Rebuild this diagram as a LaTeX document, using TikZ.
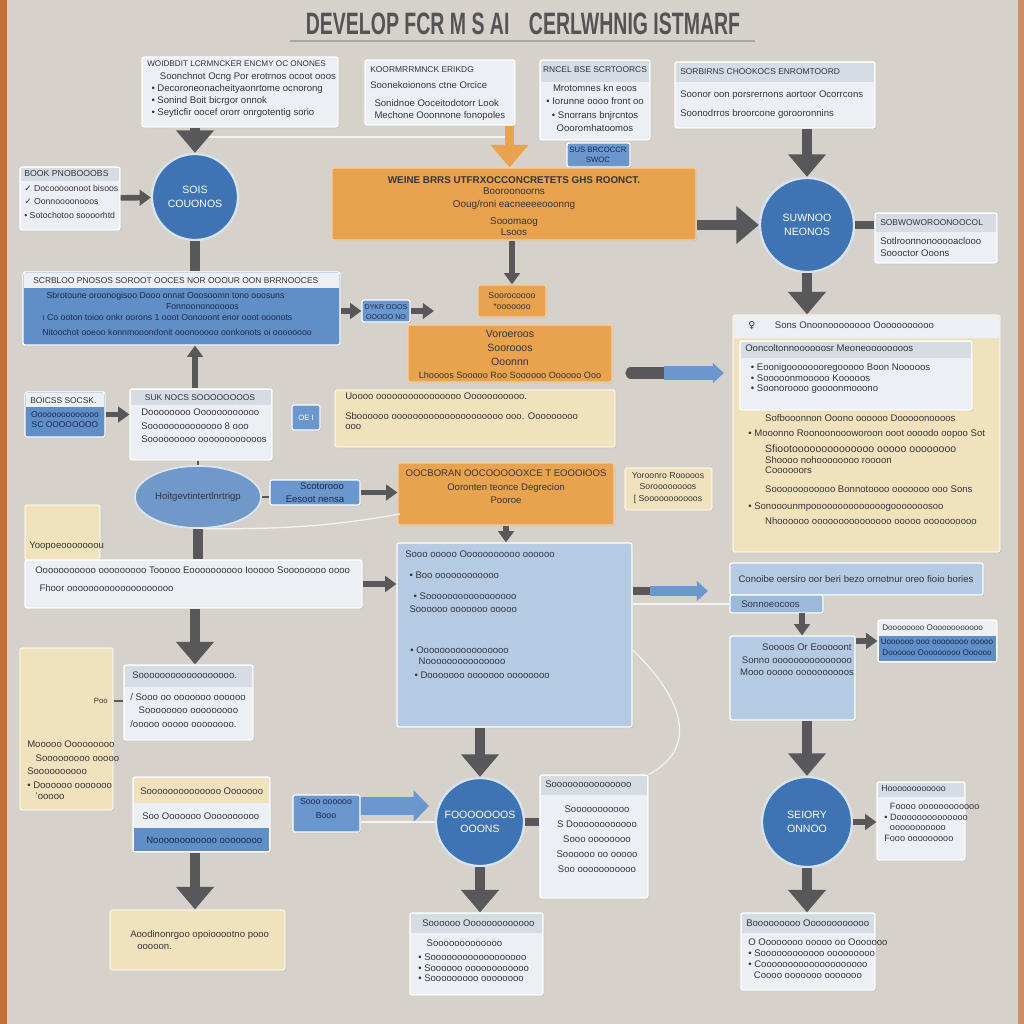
\documentclass[tikz,border=0pt]{standalone}
\usepackage{fontspec}
\setmainfont{Liberation Sans}
\newfontfamily\symfont{DejaVu Sans}
\usetikzlibrary{arrows.meta, positioning, fit, shapes.geometric, shadows}

\definecolor{canvas}{RGB}{214,209,203}
\definecolor{rust}{RGB}{196,112,62}
\definecolor{paper}{RGB}{236,240,244}
\definecolor{headgrey}{RGB}{214,220,227}
\definecolor{deepblue}{RGB}{62,116,180}
\definecolor{midblue}{RGB}{96,142,198}
\definecolor{tagblue}{RGB}{106,151,205}
\definecolor{ellblue}{RGB}{112,153,201}
\definecolor{paleblue}{RGB}{181,202,227}
\definecolor{amber}{RGB}{233,162,78}
\definecolor{sand}{RGB}{241,226,190}
\definecolor{iron}{RGB}{88,88,90}
\definecolor{ink}{RGB}{52,52,58}
\definecolor{navy}{RGB}{28,42,78}
\definecolor{titlegrey}{RGB}{84,84,86}

\begin{document}
\begin{tikzpicture}[x=0.025cm, y=-0.025cm,
    txt/.style={font=\fontsize{6.8}{8.6}\selectfont, text=ink, inner sep=0pt, anchor=north west, align=left},
    ctxt/.style={txt, anchor=north, align=center},
    card/.style={draw=white, line width=0.8pt, fill=paper, rounded corners=1.5pt, inner sep=0pt,
      drop shadow={opacity=0.22, shadow xshift=0.8pt, shadow yshift=-0.8pt}},
    band/.style={fill=headgrey, inner sep=0pt},
    ambercard/.style={card, fill=amber, draw=amber!50!white},
    bluecard/.style={card, fill=midblue},
    tagcard/.style={card, fill=tagblue},
    palecard/.style={card, fill=paleblue},
    sandcard/.style={card, fill=sand, draw=sand!40!white},
    disc/.style={circle, fill=deepblue, draw=white!80!deepblue, line width=1.6pt, text=white,
      font=\fontsize{7.5}{10}\selectfont, align=center, inner sep=0pt},
    fat/.style={draw=iron, line width=7pt, -{Triangle[width=26pt,length=16pt]}},
    slim/.style={draw=iron, line width=4pt, -{Triangle[width=11pt,length=8pt]}},
    bar/.style={draw=iron, line width=7pt},
    wire/.style={draw=white!75!canvas, line width=0.9pt},
    bluefeed/.style={draw=tagblue, line width=9pt, -{Triangle[width=14pt,length=8pt]}},
  ]
  % Canvas and title
  \fill[canvas] (0,0) rectangle (1024,1024);
  \fill[rust] (0,0) rectangle (7,1024);
  \fill[rust!70!canvas] (1018,0) rectangle (1024,1024);
  \node[font=\fontsize{22}{24}\selectfont\bfseries, text=titlegrey] (title) at (523,24)
    {\scalebox{0.63}[1]{DEVELOP FCR M S AI\quad CERLWHNIG ISTMARF}};
  \draw[titlegrey!35!canvas, line width=0.8pt] (290,41) -- (755,41);

  % Top row of cards
  \node[card, fit={(142,57) (338,127)}] (wkb) {};
  \node[txt] (wkbt) at (147,61) {{\fontsize{5.8}{8.6}\selectfont WOIDBDIT LCRMNCKER ENCMY OC ONONES}\\
    \hspace{9pt}Soonchnot Ocng Por erotrnos ocoot ooos\\
    \hspace{3pt}• Decoroneonacheityaonrtome ocnorong\\
    \hspace{3pt}• Sonind Boit bicrgor onnok\\
    \hspace{3pt}• Seyticfir oocef ororr onrgotentig sorio};

  \node[card, fit={(365,60) (515,125)}] (kor) {};
  \node[txt] (kort) at (370,66) {{\fontsize{6}{8.6}\selectfont KOORMRRMNCK ERIKDG}\\[3pt]
    Soonekoionons ctne Orcice\\[4pt]
    \hspace{3pt}Sonidnoe Ooceitodotorr Look\\
    \hspace{3pt}Mechone Ooonnone fonopoles};

  \node[card, fit={(540,60) (650,140)}] (rnc) {};
  \node[band, fit={(541,61) (649,82)}] (rncb) {};
  \node[ctxt] (rnct) at (595,66) {{\fontsize{6}{8.6}\selectfont RNCEL BSE SCRTOORCS}\\[5pt]
    Mrotomnes kn eoos\\[1pt] • Iorunne oooo front oo\\[1pt] • Snorrans bnjrcntos\\[1pt] Oooromhatoomos};

  \node[tagcard, fit={(567,143) (630,167)}] (sus) {};
  \node[ctxt, font=\fontsize{5.5}{7}\selectfont, text=navy] (sust) at (598,147) {SUS BRCOCCR\\ SWOC};

  \node[card, fit={(675,62) (875,128)}] (sorb) {};
  \node[band, fit={(676,63) (874,82)}] (sorbb) {};
  \node[txt] (sorbt) at (680,68) {{\fontsize{6}{8.6}\selectfont SORBIRNS CHOOKOCS ENROMTOORD}\\[8pt]
    Soonor oon porsrernons aortoor Ocorrcons\\[5pt]
    Soonodrros broorcone gorooronnins};

  % Left column, first row
  \node[card, fit={(20,167) (120,230)}] (bkp) {};
  \node[band, fit={(21,168) (119,181)}] (bkpb) {};
  \node[txt, font=\fontsize{6.2}{8.6}\selectfont] (bkpt) at (24,170) {BOOK PNOBOOOBS\\[2pt]
    {\symfont ✓} Docooooonoot bisoos\\[1pt] {\symfont ✓} Oonnoooonooos\\[1pt] • Sotochotoo soooorhtd};

  \node[disc, minimum size=2.15cm] (soi) at (195,197) {SOIS\\COUONOS};

  \node[ambercard, fit={(332,168) (696,240)}] (wei) {};
  \node[ctxt, font=\fontsize{7}{8.4}\selectfont] (weit) at (514,176)
    {\textbf{WEINE BRRS UTFRXOCCONCRETETS GHS ROONCT.}\\[0pt] Booroonoorns\\[0.5pt]
     Ooug/roni eacneeeeooonng\\[4pt] Sooomaog\\[-1pt] Lsoos};

  \node[disc, minimum size=2.35cm] (suw) at (807,225) {SUWNOO\\NEONOS};

  \node[card, fit={(875,213) (997,263)}] (sbw) {};
  \node[band, fit={(876,214) (996,232)}] (sbwb) {};
  \node[txt] (sbwt) at (880,219) {{\fontsize{6}{8.6}\selectfont SOBWOWOROONOOCOL}\\[5pt]
    Sotlroonnonooooaclooo\\ Soooctor Ooons};

  % Blue strip and its tags
  \node[bluecard, fit={(23,272) (340,345)}] (scr) {};
  \node[band, fill=paper, fit={(24,273) (339,288)}] (scrb) {};
  \node[txt, font=\fontsize{6}{8}\selectfont] (scrh) at (33,277)
    {SCRBLOO PNOSOS SOROOT OOCES NOR OOOUR OON BRRNOOCES};
  \node[txt, text=navy, font=\fontsize{6.2}{7.4}\selectfont] (scrt) at (42,292)
    {\hspace{3pt}Sbrotoune oroonogisoo Dooo onnat Ooosoomn tono ooosuns\\[0.5pt]
     \hspace{88pt}Fonnoononooooos\\[0.5pt]
     ı Co ooton toioo onkr oorons 1 ooot Oonooont enor ooot ooonots\\[3pt]
     Nitoochot ooeoo konnmooondonit ooonooooo oonkonots oi oooooooo};

  \node[tagcard, fit={(362,300) (410,322)}] (dyk) {};
  \node[ctxt, font=\fontsize{5}{7}\selectfont, text=navy] (dykt) at (386,304) {DYKR OOOS\\ OOOOO NO};
  \coordinate (dyktip) at (434,311);

  \node[ambercard, fit={(478,285) (546,317)}] (soc) {};
  \node[ctxt, font=\fontsize{6.2}{8}\selectfont] (soct) at (512,292) {Soorocoooo\\ *ooooooo};

  \node[ambercard, fit={(408,325) (612,382)}] (vor) {};
  \node[ctxt, font=\fontsize{7.5}{9.8}\selectfont] (vort) at (510,330)
    {Voroeroos\\ Soorooos\\ Ooonnn\\ {\fontsize{6.5}{8}\selectfont Lhoooos Sooooo Roo Soooooo Oooooo Ooo}};

  \coordinate (vorstub) at (631,373);
  \coordinate (vorjoin) at (664,373);

  % Right panel
  \node[sandcard, fit={(733,315) (1000,552)}] (snp) {};
  \node[band, fill=paper, fit={(734,316) (999,338)}] (snpb) {};
  \node[txt] (snph) at (748,321) {{\symfont ♀}\hspace{14pt}Sons Onoonoooooooo Ooooooooooo};
  \node[card, fit={(740,341) (972,410)}] (cnc) {};
  \node[band, fit={(741,342) (971,358)}] (cncb) {};
  \node[txt] (cnct) at (745,344) {Ooncoltonnoooooosr Meoneoooooooos\\[5pt]
    \hspace{4pt}• Eoonigoooooooregooooo Boon Nooooos\\[-1pt]
    \hspace{4pt}• Sooooonmooooo Kooooos\\[-1pt]
    \hspace{4pt}• Soonoroooo goooonmooono};
  \node[txt] (snpt) at (748,414) {\hspace{12pt}Sofbooonnon Ooono oooooo Dooooonoooos\\[2pt]
    • Mooonno Roonoonoooworoon ooot oooodo oopoo Sot\\[3pt]
    \hspace{12pt}{\fontsize{7.5}{9}\selectfont Sfiootoooooooooooooo ooooo oooooooo}\\[-1pt]
    \hspace{12pt}Shoooo nohoooooooo roooon\\[-1pt]
    \hspace{12pt}Coooooors\\[5pt]
    \hspace{12pt}Soooooooooooo Bonnotoooo ooooooo ooo Sons\\[3pt]
    • Sonooounmpoooooooooooooogooooooosoo\\[2pt]
    \hspace{12pt}Nhoooooo ooooooooooooooo ooooo oooooooooo};

  % Second band of the left column
  \node[bluecard, fit={(25,392) (105,437)}] (bcs) {};
  \node[band, fill=paper, fit={(26,393) (104,407)}] (bcsb) {};
  \node[txt, font=\fontsize{6}{7.5}\selectfont] (bcsh) at (30,397) {BOICSS SOCSK.};
  \node[ctxt, font=\fontsize{6}{7.5}\selectfont, text=navy] (bcst) at (65,411) {Oooooooooooooo\\ SC OOOOOOOO};

  \node[card, fit={(130,389) (272,460)}] (suk) {};
  \node[band, fit={(131,390) (271,405)}] (sukb) {};
  \node[ctxt, font=\fontsize{6}{8.6}\selectfont] (sukh) at (200,394) {SUK NOCS SOOOOOOOOS};
  \node[txt] (sukt) at (141,409) {Doooooooo Oooooooooooo\\[1pt] Soooooooooooooo 8 ooo\\[1pt] Sooooooooo oooooooooooos};

  \node[tagcard, fit={(292,405) (320,430)}] (oei) {};
  \node[txt, anchor=center, text=white, font=\fontsize{5.5}{6}\selectfont] (oeit) at (oei) {OE I};

  \node[sandcard, fit={(335,390) (615,447)}] (uoo) {};
  \node[txt] (uoot) at (345,393) {Uoooo oooooooooooooooo Ooooooooooo.\\[5pt]
    Sboooooo ooooooooooooooooooooo ooo. Ooooooooo\\[-1pt] ooo};

  \node[ellipse, fill=ellblue, draw=white!75!ellblue, line width=1.2pt, minimum width=3.15cm,
    minimum height=1.55cm, inner sep=0pt, font=\fontsize{6.8}{8}\selectfont, text=ink] (hog) at (198,497)
    {Hoitgevtintertlnrtrigp};

  \node[tagcard, fit={(270,480) (360,505)}] (sct) {};
  \node[ctxt, text=navy] (sctt) at (315,483) {\hspace{10pt}Scotorooo\\ Eesoot nensa};

  \node[ambercard, fit={(398,463) (614,525)}] (dor) {};
  \node[ctxt] (dort) at (506,470) {OOCBORAN OOCOOOOOXCE T EOOOIOOS\\[1pt] Ooronten teonce Degrecion\\[1pt] Pooroe};

  \node[sandcard, fit={(625,468) (712,510)}] (yor) {};
  \node[ctxt, font=\fontsize{6.2}{8.2}\selectfont] (yort) at (668,472) {Yoroonro Rooooos\\ Soroooooooos\\ {[} Sooooooooooos};

  \coordinate (dorwire) at (400,514);

  % Lower left
  \node[sandcard, fit={(25,505) (100,560)}] (yep) {};
  \node[txt, anchor=west] (yept) at (29,546) {Yoopoeooooooou};

  \node[card, fit={(25,560) (362,608)}] (ooc) {};
  \node[txt] (ooct) at (35,567) {Ooooooooooo ooooooooo Tooooo Eoooooooooo Iooooo Soooooooo oooo\\[4pt]
    \hspace{3pt}Fhoor oooooooooooooooooooo};

  \node[palecard, fit={(397,543) (632,727)}] (blu) {};
  \node[txt] (blut) at (405,551) {Sooo ooooo Ooooooooooo oooooo\\[6pt]
    \hspace{3pt}• Boo oooooooooooo\\[6pt]
    \hspace{6pt}• Sooooooooooooooooo\\[1pt]
    \hspace{3pt}Soooooo ooooooo ooooo};
  \node[txt] (blub) at (410,647) {• Ooooooooooooooooo\\[-1pt]
    \hspace{6pt}Nooooooooooooooo\\[1pt]
    \hspace{3pt}• Dooooooo ooooooo oooooooo};

  \coordinate (blujoin) at (650,591);
  \coordinate (blutip) at (708,591);

  \node[palecard, fit={(730,563) (983,595)}] (cob) {};
  \node[ctxt] (cobt) at (856,575) {Conoibe oersiro oor beri bezo ornotnur oreo fioio bories};
  \node[palecard, fill=paleblue!80!deepblue, fit={(730,595) (823,613)}] (bsq) {};
  \node[txt, anchor=west] (bsqt) at (741,604) {Sonnoeocoos};
  \coordinate (bsqfoot) at (802,613);

  \node[palecard, fit={(730,636) (855,720)}] (smo) {};
  \node[ctxt] (smot) at (797,644) {\hspace{14pt}Soooos Or Eooooont\\ Sonno ooooooooooooooo\\ Mooo ooooo oooooooooos};

  \node[card, fit={(878,620) (997,662)}] (dpr) {};
  \node[band, fill=midblue, fit={(879,636) (996,661)}] (dprb) {};
  \node[txt, font=\fontsize{5.8}{7.5}\selectfont] (dprh) at (882,625) {Doooooooo Oooooooooooo};
  \node[ctxt, font=\fontsize{5.8}{7.5}\selectfont, text=navy] (dprt) at (937,639)
    {Uoooooo ooo oooooooo ooooo\\ Doooooo Ooooooooo Oooooo};

  \node[sandcard, fit={(20,648) (113,810)}] (lsb) {};
  \node[txt, anchor=east, font=\fontsize{5.5}{6}\selectfont] (lsbp) at (108,701) {Poo};
  \node[txt] (lsbt) at (27,741) {Mooooo Ooooooooo\\[1pt] \hspace{6pt}Sooooooooo ooooo\\[1pt] Soooooooooo\\[1pt]
    • Doooooo ooooooo\\[-1pt] \hspace{6pt}'ooooo};

  \node[card, fit={(124,665) (253,740)}] (sbk) {};
  \node[band, fit={(125,666) (252,687)}] (sbkb) {};
  \node[txt] (sbkh) at (132,672) {Soooooooooooooooooo.};
  \node[txt] (sbkt) at (130,693) {/ Sooo oo ooooooo oooooo\\[1pt]
    \hspace{6pt}Soooooooo ooooooooo\\[1pt] /ooooo ooooo oooooooo.};

  \node[card, fit={(133,777) (270,852)}] (sst) {};
  \node[band, fill=sand, fit={(134,778) (269,803)}] (sstb) {};
  \node[band, fill=midblue, fit={(134,828) (269,851)}] (sstc) {};
  \node[txt, anchor=west] (ssth) at (140,791) {Soooooooooooooo Ooooooo};
  \node[txt, anchor=west] (sstm) at (142,816) {Soo Ooooooo Oooooooooo};
  \node[txt, anchor=west, text=navy] (sstn) at (146,840) {Noooooooooooo oooooooo};

  \node[sandcard, fit={(110,910) (285,970)}] (aoe) {};
  \node[txt] (aoet) at (130,930) {Aoodinonrgoo opoiooootno pooo\\ \hspace{5pt}ooooon.};

  % Lower middle
  \coordinate (bomrow) at (300,806);
  \draw[tagblue, line width=13pt, -{Triangle[width=22pt,length=11pt]}, shorten >=5pt] (bomrow) -- (bomrow -| 436,0);
  \node[tagcard, fit={(293,795) (360,832)}] (bom) {};
  \node[ctxt, text=navy, font=\fontsize{6.2}{10}\selectfont] (bomt) at (326,798) {Sooo oooooo\\ Booo};

  \node[disc, minimum size=2.2cm] (fds) at (480,822) {FOOOOOOOS\\ OOONS};

  \node[card, fit={(540,775) (648,898)}] (bst) {};
  \node[band, fit={(541,776) (647,795)}] (bstb) {};
  \node[txt] (bsth) at (545,781) {Sooooooooooooooo};
  \node[ctxt] (bstt) at (597,806) {Sooooooooooo\\[2pt] S Doooooooooooo\\[2pt] Sooo oooooooo\\[2pt]
    Soooooo oo ooooo\\[2pt] Soo ooooooooooo};

  \node[card, fit={(410,913) (543,995)}] (bnd) {};
  \node[band, fit={(411,914) (542,933)}] (bndb) {};
  \node[txt] (bndh) at (422,920) {Soooooo Ooooooooooooo};
  \node[txt] (bndt) at (418,940) {\hspace{6pt}Sooooooooooooo\\[1pt] • Soooooooooooooooooo\\[-1pt]
    • Soooooo oooooooooooo\\[-1pt] • Sooooooooo oooooooo};

  % Lower right
  \node[disc, minimum size=2.25cm] (sei) at (807,822) {SEIORY\\ ONNOO};

  \node[card, fit={(877,782) (965,860)}] (hsr) {};
  \node[band, fit={(878,783) (964,797)}] (hsrb) {};
  \node[txt, font=\fontsize{6.2}{8.6}\selectfont] (hsrh) at (881,785) {Hoooooooooooo};
  \node[txt, font=\fontsize{6.5}{8.6}\selectfont] (hsrt) at (884,803) {\hspace{4pt}Foooo oooooooooooo\\[-1pt]
    • Doooooooooooooo\\[-1pt] \hspace{4pt}ooooooooooo\\[-1pt] Fooo ooooooooo};

  \node[card, fit={(741,913) (875,990)}] (bxo) {};
  \node[band, fit={(742,914) (874,933)}] (bxob) {};
  \node[txt] (bxoh) at (746,920) {Booooooooo Oooooooooooo};
  \node[txt] (bxot) at (748,939) {O Oooooooo ooooo oo Ooooooo\\[-1pt] • Soooooooooooo ooooooooo\\[-1pt]
    • Coooooooooooooooooooo\\[-1pt] \hspace{4pt}Coooo ooooooo ooooooo};

  % Connectors
  \coordinate (korfoot) at ([shift={(-6,0)}]kor.south east);
  \coordinate (lnkl) at (200,137);
  \draw[wire] (lnkl) -- (lnkl -| korfoot);
  \draw[fat] (soi.north |- wkb.south) -- (soi.north);
  \draw[draw=amber, line width=7pt, -{Triangle[width=26pt,length=16pt]}] (korfoot) -- (korfoot |- wei.north);
  \draw[fat] (suw.north |- sorb.south) -- (suw.north);
  \draw[slim] (bkp) -- (soi);
  \draw[bar] (soi.south) -- (soi.south |- scr.north);
  \draw[fat] (wei.east |- suw) -- (suw.west);
  \draw[bar, line width=5pt] (suw.east) -- (suw.east -| sbw.west);
  \draw[fat] (suw.south) -- (suw.south |- snp.north);
  \draw[slim] (scr.east |- dyk) -- (dyk.west);
  \draw[slim] (dyk.east) -- (dyktip);
  \draw[slim] (soc.north |- wei.south) -- (soc.north);
  \draw[iron, line width=8pt, line cap=round] (vorstub) -- (vorjoin);
  \draw[bluefeed, line width=10pt, shorten >=6pt] (vorjoin) -- (vorjoin -| snp.west);
  \draw[slim] (bcs.east) -- (bcs.east -| suk.west);
  \draw[slim] (suk.north -| soi) -- (soi |- scr.south);
  \draw[iron, line width=2pt] (suk.south -| hog) -- (hog.north);
  \draw[iron, line width=1.5pt] (hog.east) -- (hog.east -| sct.west);
  \draw[slim] (sct.east) -- (sct.east -| dor.west);
  \draw[wire] (hog.south) to[out=0, in=190] (dorwire);
  \draw[bar] (hog.south) -- (hog.south |- ooc.north);
  \draw[slim] (ooc.east) -- (ooc.east -| blu.west);
  \draw[fat] (ooc.south -| soi) -- (soi |- sbk.north);
  \draw[slim] (dor.south) -- (dor.south |- blu.north);
  \draw[iron, line width=5pt] (blu.east |- blujoin) -- (blujoin);
  \draw[bluefeed, line width=7pt] (blujoin) -- (blutip);
  \draw[wire] (bsq.west -| blu.east) -- (bsq.west);
  \draw[wire] ([shift={(0,15)}]blu.east) .. controls (675,690) and (705,745) .. (bst.north east);
  \draw[slim] (bsqfoot) -- (bsqfoot |- smo.north);
  \draw[slim] (smo.east |- dpr) -- (dpr.west);
  \draw[fat] (sei.north |- smo.south) -- (sei.north);
  \draw[iron, line width=1.5pt] (lsb.east |- lsbp) -- (sbk.west |- lsbp);
  \draw[fat] (sst.south -| soi) -- (soi |- aoe.north);
  \draw[wire] (bom.east |- fds) -- (fds.west);
  \draw[fat] (blu.south -| fds) -- (fds.north);
  \draw[bar, line width=5pt] (fds.east) -- (fds.east -| bst.west);
  \draw[fat] (fds.south) -- (fds.south |- bnd.north);
  \draw[slim] (sei.east) -- (sei.east -| hsr.west);
  \draw[fat] (sei.south) -- (sei.south |- bxo.north);
\end{tikzpicture}
\end{document}
